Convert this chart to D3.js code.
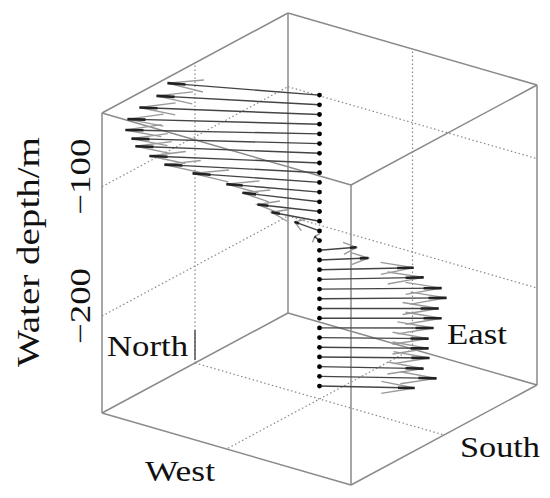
<!DOCTYPE html>
<html>
<head>
<meta charset="utf-8">
<script src="https://cdn.jsdelivr.net/npm/d3@7"></script>
<style>
body { margin: 0; background: #fff; }
text { font-family: "Liberation Serif", "DejaVu Serif", serif; fill: #111; }
</style>
</head>
<body>
<svg id="chart" width="550" height="498"></svg>
<script>
// depth of each current meter bin (m)
var depths = [-40, -47.5, -55, -62.5, -70, -77.5, -85, -92.5, -100, -107.5, -115, -122.5,
  -130, -137.5, -145, -152.5, -160, -167.5, -175, -182.5, -190, -197.5, -205, -212.5,
  -220, -227.5, -235, -242.5, -250, -257.5, -265];
// velocity components (cm/s) along the two horizontal axes
var uSouth = [-45.5, -46.9, -50.4, -52.6, -52.6, -51.5, -51.5, -47.8, -44.4, -37.5, -28.2, -24.5,
  -19.6, -16.9, -10.9, -3.2, 8.2, 11.8, 23.6, 26.2, 31.4, 32.7, 31.1, 31.9, 29.8, 29.0,
  29.0, 29.2, 28.1, 31.5, 25.8];
var vWest = [20.8, 24.8, 29.3, 32.8, 33.9, 32.1, 30.0, 27.4, 23.9, 18.0, 12.3, 8.6,
  7.1, 3.2, -1.2, -1.7, -8.9, -10.5, -19.0, -20.9, -23.6, -24.5, -22.4, -22.9, -21.4, -19.8,
  -19.8, -20.0, -18.3, -20.7, -16.6];
var zTicks = [-100, -200];

var svg = d3.select("#chart");

// oblique projection of the box: origin at the back bottom corner
var B = [288, 313], A = [-186, 100], Bv = [249, 72], H = 300;
var sa = d3.scaleLinear().domain([-50, 50]).range([0, 1]);   // along West axis
var sb = d3.scaleLinear().domain([-50, 50]).range([0, 1]);   // along South axis
var sz = d3.scaleLinear().domain([-275, -43]).range([0, 1]);

function proj(a, b, z) {
  return [B[0] + a * A[0] + b * Bv[0], B[1] + a * A[1] + b * Bv[1] - z * H];
}
function seg(p, q) {
  return svg.append("line").attr("x1", p[0]).attr("y1", p[1]).attr("x2", q[0]).attr("y2", q[1]);
}

// dotted grid on back walls and floor
function dot(p, q) {
  seg(p, q).attr("stroke", "#888").attr("stroke-width", 1.2).attr("stroke-dasharray", "1.5,2.5");
}
zTicks.forEach(function(t) {
  var z = sz(t);
  dot(proj(1, 0, z), proj(0, 0, z));
  dot(proj(0, 0, z), proj(0, 1, z));
});
dot(proj(0.5, 0, 0), proj(0.5, 0, 1));
dot(proj(0, 0.5, 0), proj(0, 0.5, 1));
dot(proj(0.5, 0, 0), proj(0.5, 1, 0));
dot(proj(0, 0.5, 0), proj(1, 0.5, 0));

// box edges
var corners = [[0,0],[1,0],[1,1],[0,1]];
corners.forEach(function(c, i) {
  var n = corners[(i + 1) % 4];
  [0, 1].forEach(function(z) {
    seg(proj(c[0], c[1], z), proj(n[0], n[1], z)).attr("stroke", "#8a8a8a").attr("stroke-width", 1.5);
  });
  seg(proj(c[0], c[1], 0), proj(c[0], c[1], 1)).attr("stroke", "#8a8a8a").attr("stroke-width", 1.5);
});
// short tick near North
seg([195, 330], [195, 360]).attr("stroke", "#555").attr("stroke-width", 1.5);

// arrows
var ag = svg.append("g");
depths.forEach(function(d, i) {
  var z = sz(d);
  var p0 = proj(0.5, 0.5, z);
  var p1 = proj(sa(vWest[i]), sb(uSouth[i]), z);
  var dx = p1[0] - p0[0], dy = p1[1] - p0[1], L = Math.hypot(dx, dy);
  ag.append("line").attr("x1", p0[0]).attr("y1", p0[1]).attr("x2", p1[0]).attr("y2", p1[1])
    .attr("stroke", "#444").attr("stroke-width", 1.4);
  if (L > 4) {
    var ux = dx / L, uy = dy / L, hl = Math.min(36, L * 0.35), hw = 6;
    var bx = p1[0] - ux * hl, by = p1[1] - uy * hl;
    ag.append("polyline")
      .attr("points", [[bx - uy * hw, by + ux * hw], p1, [bx + uy * hw, by - ux * hw]].map(function(p) { return p.join(","); }).join(" "))
      .attr("fill", "none").attr("stroke", "#999").attr("stroke-width", 1.4);
    ag.append("line").attr("x1", p1[0]).attr("y1", p1[1]).attr("x2", p1[0] - ux * hl * 0.5).attr("y2", p1[1] - uy * hl * 0.5)
      .attr("stroke", "#222").attr("stroke-width", 2.6);
  }
  ag.append("circle").attr("cx", p0[0]).attr("cy", p0[1]).attr("r", 2.4).attr("fill", "#000");
});

// z tick labels
zTicks.forEach(function(t) {
  var p = proj(1, 0, sz(t));
  svg.append("text").attr("transform", "translate(" + (p[0] - 12) + "," + (p[1] - 10) + ") rotate(-90)")
    .attr("text-anchor", "middle").attr("font-size", 29)
    .attr("textLength", 76).attr("lengthAdjust", "spacingAndGlyphs").text("\u2212" + Math.abs(t));
});
svg.append("text").attr("transform", "translate(39,252) rotate(-90)")
  .attr("text-anchor", "middle").attr("font-size", 32)
  .attr("textLength", 230).attr("lengthAdjust", "spacingAndGlyphs").text("Water depth/m");

function label(x, y, w, s) {
  svg.append("text").attr("x", x).attr("y", y).attr("font-size", 30)
    .attr("textLength", w).attr("lengthAdjust", "spacingAndGlyphs").text(s);
}
label(107, 356, 81, "North");
label(447, 344, 60, "East");
label(460, 457, 80, "South");
label(145, 481, 70, "West");
</script>
</body>
</html>
